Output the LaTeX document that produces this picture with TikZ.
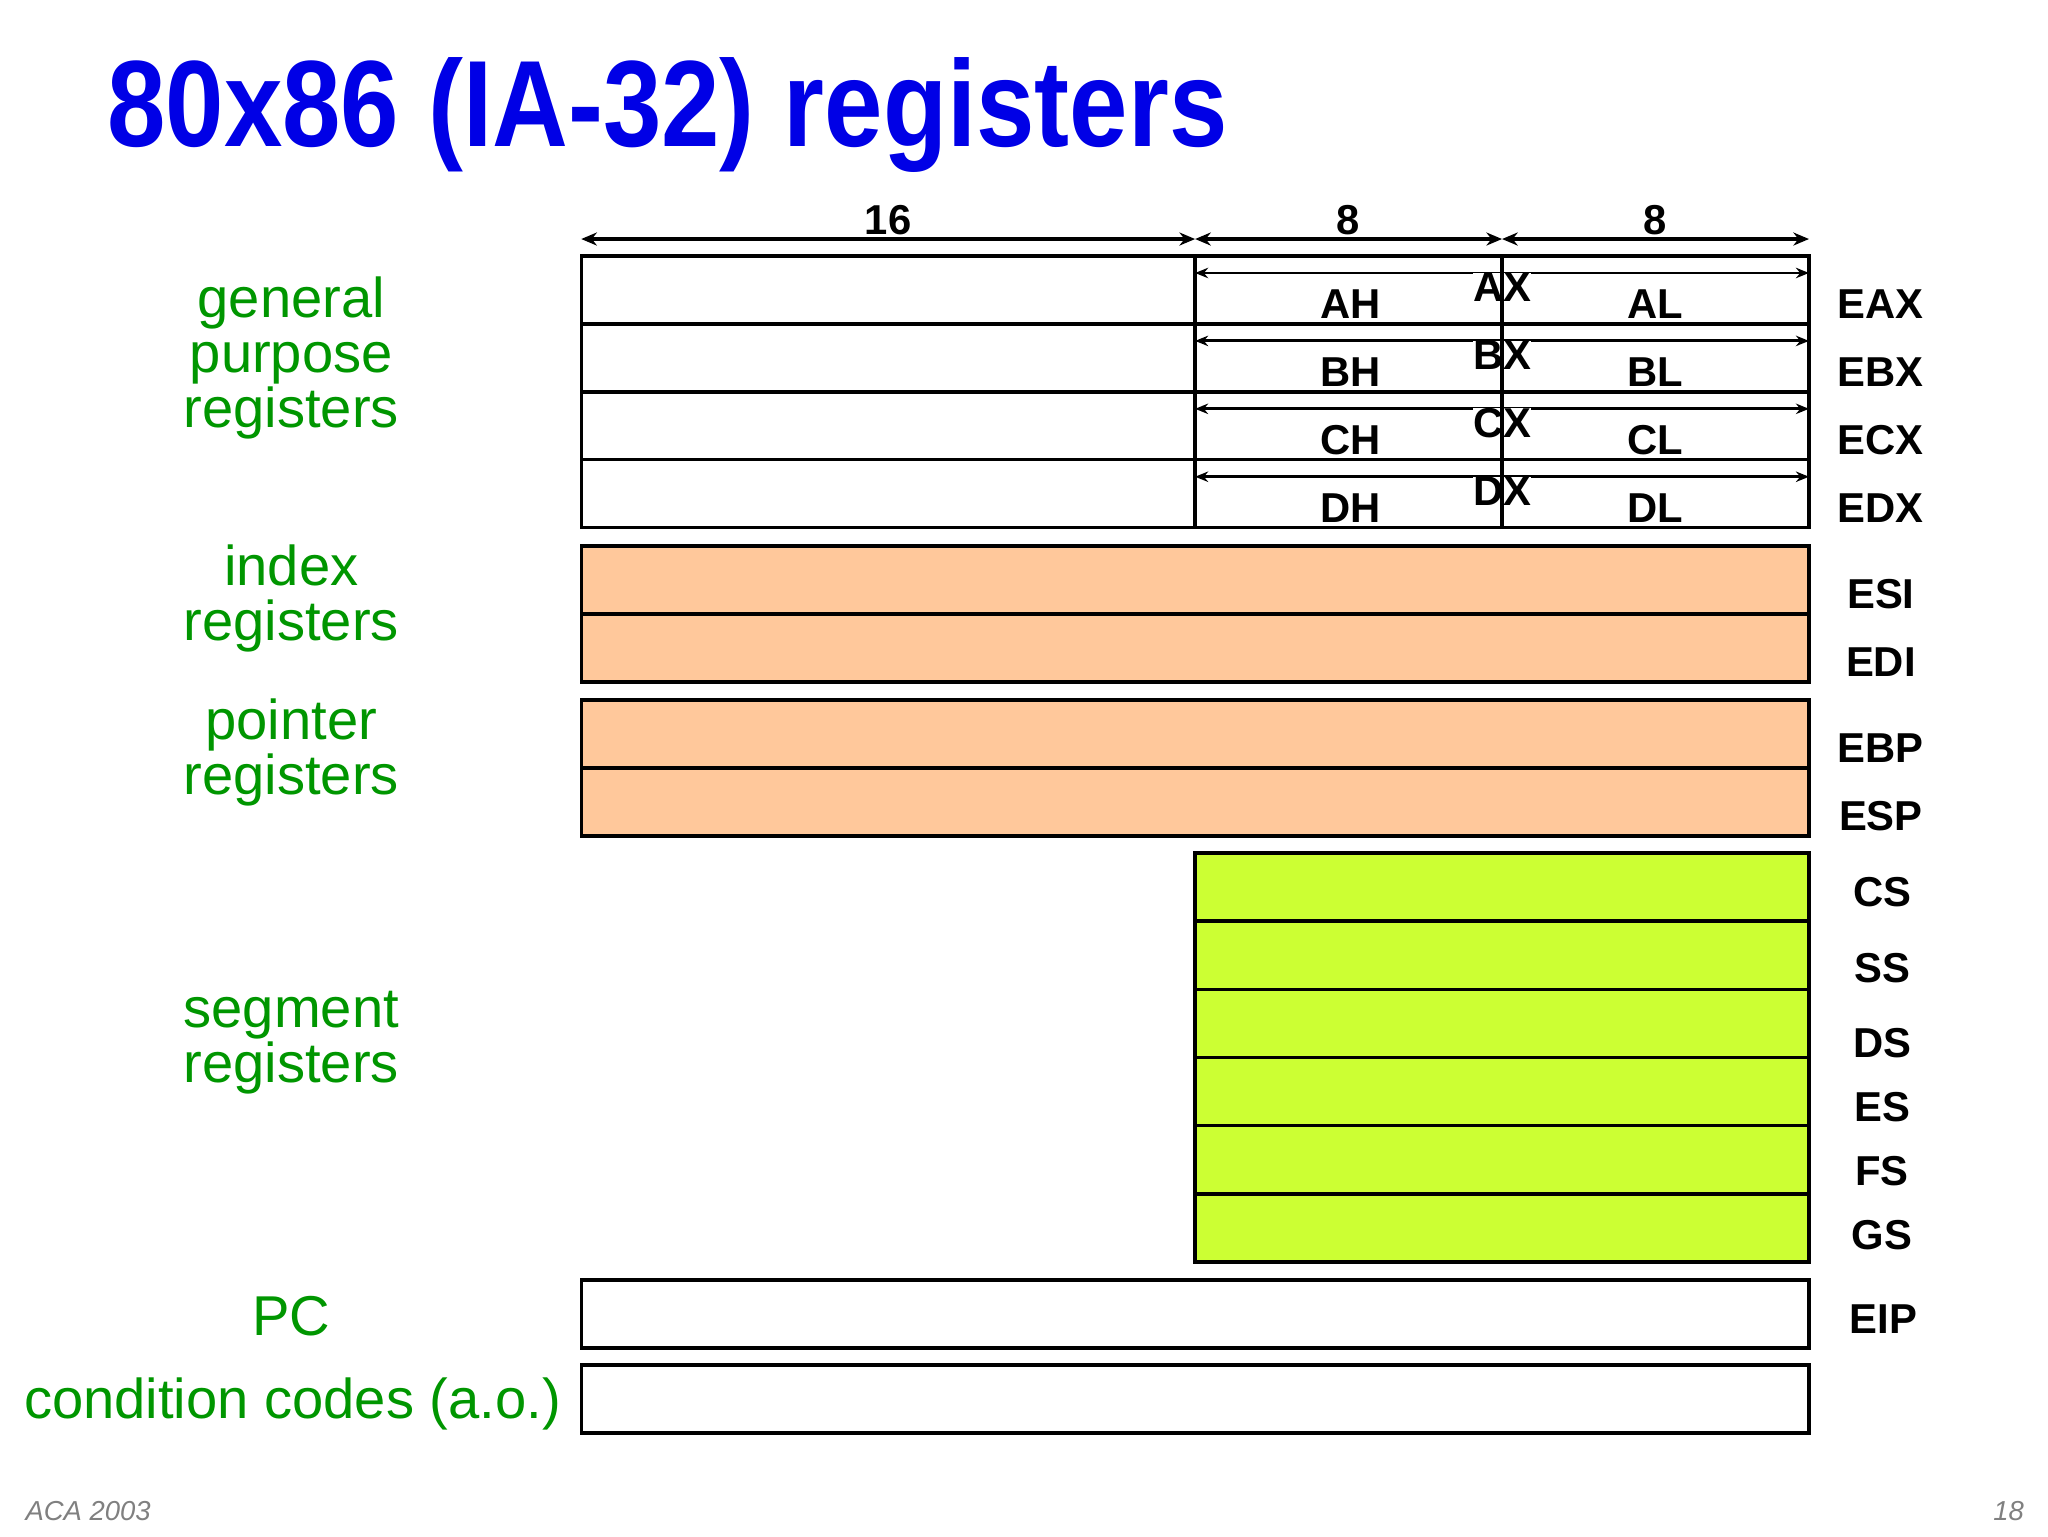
\documentclass[tikz,border=0pt]{standalone}
\usepackage{fontspec}
\setmainfont{Liberation Sans}
\usetikzlibrary{arrows.meta}
\definecolor{ttl}{RGB}{0,0,230}
\definecolor{grn}{RGB}{0,150,0}
\definecolor{peach}{RGB}{255,200,155}
\definecolor{lime}{RGB}{204,255,51}
\begin{document}
\begin{tikzpicture}[x=1pt,y=-1pt,
  reg/.style={draw=black,line width=2.6pt},
  rl/.style={font=\fontsize{32}{32}\selectfont\bfseries,anchor=base},
  gl/.style={text=grn,font=\fontsize{43}{42}\selectfont,align=center},
  dim/.style={line width=2.4pt,{Stealth[length=12pt,width=10pt]}-{Stealth[length=12pt,width=10pt]}},
  sdim/.style={line width=2.2pt,{Stealth[length=10pt,width=8pt]}-{Stealth[length=10pt,width=8pt]}}]
\useasboundingbox[fill=white] (0,0) rectangle (1568,1176);
\node[anchor=base west,text=ttl,font=\fontsize{94}{94}\selectfont\bfseries,xscale=0.855,transform shape,inner sep=0] (title) at (82,112) {80x86 (IA-32) registers};
% dimension arrows
\coordinate (d0) at (445,183); \coordinate (d1) at (915,183);
\coordinate (d2) at (1150,183); \coordinate (d3) at (1385,183);
\draw[dim] (d0) -- node[above=-1pt,font=\fontsize{32}{32}\selectfont\bfseries]{16} (d1);
\draw[dim] (d1) -- node[above=-1pt,font=\fontsize{32}{32}\selectfont\bfseries]{8} (d2);
\draw[dim] (d2) -- node[above=-1pt,font=\fontsize{32}{32}\selectfont\bfseries]{8} (d3);
% general purpose
\foreach \i/\h/\l/\x/\e in {0/AH/AL/AX/EAX,1/BH/BL/BX/EBX,2/CH/CL/CX/ECX,3/DH/DL/DX/EDX}{
  \pgfmathsetmacro{\yt}{196+52*\i}
  \draw[reg] (445,\yt) rectangle (915,\yt+52);
  \draw[reg] (915,\yt) rectangle (1385,\yt+52);
  \coordinate (a\i) at (915,\yt+13); \coordinate (b\i) at (1385,\yt+13);
  \draw[sdim] (a\i) -- (b\i);
  \node[rl] (h\i) at (1034,\yt+48) {\h};
  \node[rl] (l\i) at (1267,\yt+48) {\l};
  \node[rl,fill=white,inner sep=0pt] (x\i) at (1150,\yt+35) {\x};
  \node[rl] (e\i) at (1440,\yt+48) {\e};
}
\draw[line width=2.6pt] (1150,196) -- (1150,404);
% index & pointer
\foreach \yt/\n in {418/ESI,470/EDI,536/EBP,588/ESP}{
  \draw[reg,fill=peach] (445,\yt) rectangle (1385,\yt+52);
  \node[rl] at (1440,\yt+48) {\n};
}
% segment
\foreach \i/\n/\ly in {0/CS/694,1/SS/752,2/DS/810,3/ES/859,4/FS/908,5/GS/957}{
  \pgfmathsetmacro{\yt}{653+52.2*\i}
  \draw[reg,fill=lime] (915,\yt) rectangle (1385,\yt+52.2);
  \node[rl] at (1441,\ly) {\n};
}
\draw[reg] (445,980) rectangle (1385,1032);
\node[rl] at (1442,1021) {EIP};
\draw[reg] (445,1045) rectangle (1385,1097);
% left labels
\node[gl] at (223,274) {general\\purpose\\registers};
\node[gl] at (223,458) {index\\registers};
\node[gl] at (223,576) {pointer\\registers};
\node[gl] at (223,798) {segment\\registers};
\node[gl] at (223,1008) {PC};
\node[gl] at (224,1075) {condition codes (a.o.)};
\node[anchor=base west,text=gray,font=\fontsize{21}{21}\selectfont\itshape] at (16,1164) {ACA 2003};
\node[anchor=base east,text=gray,font=\fontsize{21}{21}\selectfont\itshape] at (1553,1164) {18};
\end{tikzpicture}
\end{document}
